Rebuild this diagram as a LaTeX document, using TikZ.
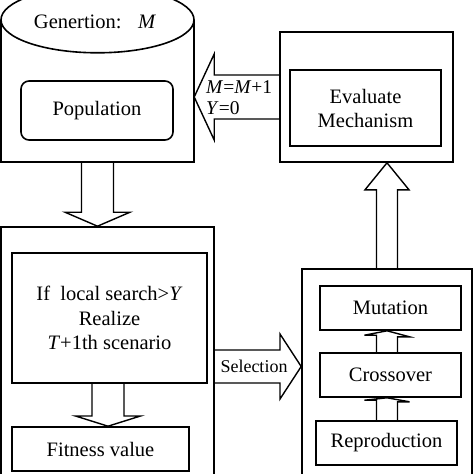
\documentclass[tikz,border=0pt]{standalone}
\usepackage{fontspec}
\setmainfont{Liberation Serif}
\usetikzlibrary{calc}
\begin{document}
\begin{tikzpicture}[x=1pt,y=-1pt,
  box/.style={draw, line width=1.6pt, inner sep=0pt, align=center,
    font=\fontsize{20.5}{24.5}\selectfont},
  fat/.style={draw, line width=1.4pt, line join=miter},
  lbl/.style={inner sep=0pt, align=left}]
\useasboundingbox (0,0) rectangle (474,474);

% containers
\node[draw=none, minimum width=193pt, minimum height=142pt, inner sep=0pt] (cyl) at (97.5,91) {};
\node[box, minimum width=213pt, minimum height=253pt] (lbox) at (107.5,353.5) {};
\node[box, minimum width=170pt, minimum height=211pt] (rbox) at (387,374.5) {};
\node[box, minimum width=173pt, minimum height=130pt] (evalo) at (366.5,97) {};

% cylinder outline
\draw[line width=1.6pt] (cyl.north west) -- (cyl.south west) -- (cyl.south east) -- (cyl.north east);
\draw[line width=1.6pt] (cyl.north) ellipse [x radius=96.5pt, y radius=33pt];
\node[lbl, font=\fontsize{20.5}{24}\selectfont] (gen) at (95,22) {Genertion:\hspace{0.8em}\textit{M}};

% inner boxes
\node[box, rounded corners=8pt, minimum width=152pt, minimum height=59pt] (pop) at (97,110.5) {Population};
\node[box, minimum width=195pt, minimum height=130pt] (search) at (109.5,318)
  {If\ \ local search>\textit{Y}\\Realize\\\textit{T}+1th scenario};
\node[box, minimum width=177pt, minimum height=44pt] (fit) at (100.5,449) {Fitness value};
\node[box, minimum width=141pt, minimum height=44pt] (mut) at (390.5,308) {Mutation};
\node[box, minimum width=141pt, minimum height=44pt] (cross) at (390.5,375) {Crossover};
\node[box, minimum width=141pt, minimum height=44pt] (repro) at (386.5,443) {Reproduction};
\node[box, minimum width=151pt, minimum height=76pt, font=\fontsize{20.5}{24}\selectfont] (evali) at (365.5,108) {Evaluate\\Mechanism};

% arrow: cylinder -> left box
\draw[fat] ($(cyl.south)+(-16,0)$) -- ++(0,50) -- ++(-16.5,0) -- (cyl.south |- lbox.north)
  -- ($(cyl.south)+(32.5,50)$) -- ++(-16.5,0) -- ($(cyl.south)+(16,0)$);

% arrow: search -> fitness
\coordinate (a2) at (108,383);
\draw[fat] ($(a2)+(-16,0)$) -- ++(0,33) -- ++(-16.5,0) -- (a2 |- fit.north)
  -- ($(a2)+(32.5,33)$) -- ++(-16.5,0) -- ($(a2)+(16,0)$);

% arrow: selection
\coordinate (selS) at (214,366.5);
\draw[fat] ($(selS)+(0,-16.5)$) -- ++(66,0) -- ++(0,-16) -- (rbox.west |- selS)
  -- ($(selS)+(66,32.5)$) -- ++(0,-16) -- ($(selS)+(0,16.5)$);
\node[lbl, font=\fontsize{18}{21}\selectfont] (sel) at (254,366) {Selection};

% arrow: right box -> evaluate
\draw[fat] ($(rbox.north)+(-10.5,0)$) -- ($(rbox.north |- evalo.south)+(-10.5,27)$) -- ++(-11.5,0)
  -- (rbox.north |- evalo.south) -- ($(rbox.north |- evalo.south)+(22,27)$) -- ++(-11.5,0)
  -- ($(rbox.north)+(10.5,0)$);

% arrow: evaluate -> cylinder
\draw[fat] ($(evalo.west)+(0,-22)$) -- ($(cyl.east |- evalo.west)+(20,-22)$) -- ++(0,-21)
  -- (cyl.east |- evalo.west) -- ($(cyl.east |- evalo.west)+(20,43)$) -- ++(0,-21)
  -- ($(evalo.west)+(0,22)$);
\node[lbl, anchor=west, font=\fontsize{19.5}{21}\selectfont] (upd) at (206,97.5) {\textit{M}=\textit{M}+1\\\textit{Y}=0};

% small arrows inside right box
\draw[fat] ($(rbox.north |- cross.north)+(-10.5,0)$) -- ++(0,-17) -- ++(-12,0) -- (rbox.north |- mut.south)
  -- ++(22.5,6) -- ++(-12,0) -- ($(rbox.north |- cross.north)+(10.5,0)$);
\draw[fat] ($(rbox.north |- repro.north)+(-10.5,0)$) -- ++(0,-20) -- ++(-12,0) -- (rbox.north |- cross.south)
  -- ++(22.5,4) -- ++(-12,0) -- ($(rbox.north |- repro.north)+(10.5,0)$);
\end{tikzpicture}
\end{document}
